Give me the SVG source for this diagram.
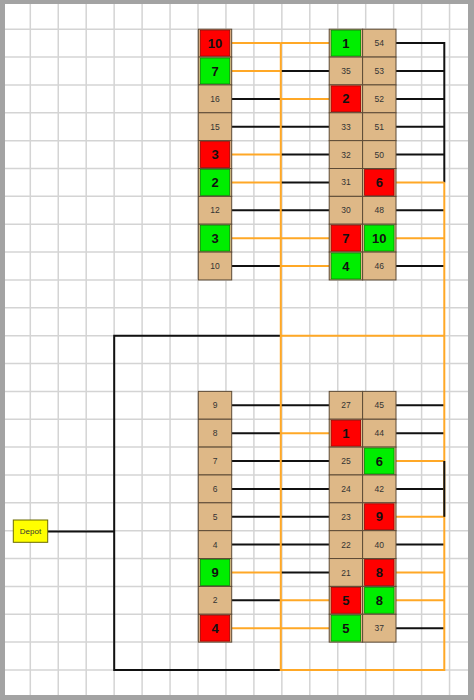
<svg xmlns="http://www.w3.org/2000/svg" width="474" height="700" viewBox="0 0 474 700">
<style>
.grid line{stroke:#d4d4d4;stroke-width:1.5}
.cell{fill:#deb887;stroke:#5c4a36;stroke-width:1}
.red{fill:#ff0000;stroke:#a00000;stroke-width:0.8}
.grn{fill:#00ee00;stroke:#009000;stroke-width:0.8}
.t{font-family:"Liberation Sans",Arial,sans-serif;font-size:8.5px;fill:#333;text-anchor:middle;dominant-baseline:central}
.b{font-family:"Liberation Sans",Arial,sans-serif;font-size:13px;font-weight:bold;fill:#111;text-anchor:middle;dominant-baseline:central}
.k{stroke:#111;stroke-width:2;fill:none}
.o{stroke:#ffa826;stroke-width:2;fill:none}
</style>
<rect x="0" y="0" width="474" height="700" fill="#a3a3a3"/>
<rect x="5" y="4" width="463" height="691" fill="#ffffff"/>
<g class="grid">
<line x1="30.3" y1="4" x2="30.3" y2="695"/><line x1="58.25" y1="4" x2="58.25" y2="695"/><line x1="86.2" y1="4" x2="86.2" y2="695"/><line x1="114.15" y1="4" x2="114.15" y2="695"/><line x1="142.1" y1="4" x2="142.1" y2="695"/><line x1="170.05" y1="4" x2="170.05" y2="695"/><line x1="198" y1="4" x2="198" y2="695"/><line x1="225.95" y1="4" x2="225.95" y2="695"/><line x1="253.9" y1="4" x2="253.9" y2="695"/><line x1="281.85" y1="4" x2="281.85" y2="695"/><line x1="309.8" y1="4" x2="309.8" y2="695"/><line x1="337.75" y1="4" x2="337.75" y2="695"/><line x1="365.7" y1="4" x2="365.7" y2="695"/><line x1="393.65" y1="4" x2="393.65" y2="695"/><line x1="421.6" y1="4" x2="421.6" y2="695"/><line x1="449.55" y1="4" x2="449.55" y2="695"/>
<line x1="5" y1="29.2" x2="468" y2="29.2"/><line x1="5" y1="57.06" x2="468" y2="57.06"/><line x1="5" y1="84.92" x2="468" y2="84.92"/><line x1="5" y1="112.78" x2="468" y2="112.78"/><line x1="5" y1="140.64" x2="468" y2="140.64"/><line x1="5" y1="168.5" x2="468" y2="168.5"/><line x1="5" y1="196.36" x2="468" y2="196.36"/><line x1="5" y1="224.22" x2="468" y2="224.22"/><line x1="5" y1="252.08" x2="468" y2="252.08"/><line x1="5" y1="279.94" x2="468" y2="279.94"/><line x1="5" y1="307.8" x2="468" y2="307.8"/><line x1="5" y1="335.66" x2="468" y2="335.66"/><line x1="5" y1="363.52" x2="468" y2="363.52"/><line x1="5" y1="391.38" x2="468" y2="391.38"/><line x1="5" y1="419.24" x2="468" y2="419.24"/><line x1="5" y1="447.1" x2="468" y2="447.1"/><line x1="5" y1="474.96" x2="468" y2="474.96"/><line x1="5" y1="502.82" x2="468" y2="502.82"/><line x1="5" y1="530.68" x2="468" y2="530.68"/><line x1="5" y1="558.54" x2="468" y2="558.54"/><line x1="5" y1="586.4" x2="468" y2="586.4"/><line x1="5" y1="614.26" x2="468" y2="614.26"/><line x1="5" y1="642.12" x2="468" y2="642.12"/><line x1="5" y1="669.98" x2="468" y2="669.98"/>
</g>
<g id="connectors">
<!-- trunk -->
<path class="k" d="M47.7 531.5 H114.2"/>
<path class="k" d="M280.8 335.7 H114.2 V670 H280.8"/>
<path class="k" d="M396 43.1 H444.3 V182.4"/>
<!-- top block left -->
<path class="o" d="M231.7 43.1 H280.8"/><path class="o" d="M231.7 71 H280.8"/><path class="k" d="M231.7 98.9 H280.8"/><path class="k" d="M231.7 126.7 H280.8"/><path class="o" d="M231.7 154.6 H280.8"/><path class="o" d="M231.7 182.4 H280.8"/><path class="k" d="M231.7 210.3 H280.8"/><path class="o" d="M231.7 238.2 H280.8"/><path class="k" d="M231.7 266 H280.8"/>
<!-- top block middle -->
<path class="o" d="M280.8 43.1 H329.2"/><path class="k" d="M280.8 71 H329.2"/><path class="o" d="M280.8 98.9 H329.2"/><path class="k" d="M280.8 126.7 H329.2"/><path class="k" d="M280.8 154.6 H329.2"/><path class="k" d="M280.8 182.4 H329.2"/><path class="k" d="M280.8 210.3 H329.2"/><path class="o" d="M280.8 238.2 H329.2"/><path class="o" d="M280.8 266 H329.2"/>
<!-- top block right -->
<path class="k" d="M396 71 H444.3"/><path class="k" d="M396 98.9 H444.3"/><path class="k" d="M396 126.7 H444.3"/><path class="k" d="M396 154.6 H444.3"/><path class="o" d="M396 182.4 H444.3"/><path class="k" d="M396 210.3 H444.3"/><path class="o" d="M396 238.2 H444.3"/><path class="k" d="M396 266 H444.3"/>
<!-- bottom block left -->
<path class="k" d="M231.7 405.3 H280.8"/><path class="k" d="M231.7 433.2 H280.8"/><path class="k" d="M231.7 461 H280.8"/><path class="k" d="M231.7 488.9 H280.8"/><path class="k" d="M231.7 516.8 H280.8"/><path class="k" d="M231.7 544.6 H280.8"/><path class="o" d="M231.7 572.5 H280.8"/><path class="k" d="M231.7 600.3 H280.8"/><path class="o" d="M231.7 628.2 H280.8"/>
<!-- bottom block middle -->
<path class="k" d="M280.8 405.3 H329.2"/><path class="o" d="M280.8 433.2 H329.2"/><path class="k" d="M280.8 461 H329.2"/><path class="k" d="M280.8 488.9 H329.2"/><path class="k" d="M280.8 516.8 H329.2"/><path class="k" d="M280.8 544.6 H329.2"/><path class="k" d="M280.8 572.5 H329.2"/><path class="o" d="M280.8 600.3 H329.2"/><path class="o" d="M280.8 628.2 H329.2"/>
<!-- bottom block right -->
<path class="k" d="M396 405.3 H444.3"/><path class="k" d="M396 433.2 H444.3"/><path class="o" d="M396 461 H444.3"/><path class="k" d="M396 488.9 H444.3"/><path class="o" d="M396 516.8 H444.3"/><path class="k" d="M396 544.6 H444.3"/><path class="o" d="M396 572.5 H444.3"/><path class="o" d="M396 600.3 H444.3"/><path class="k" d="M396 628.2 H444.3"/>
<!-- orange trunks -->
<path class="o" d="M280.8 43.1 V670 H444.3 V182.4"/>
<path class="o" d="M280.8 335.7 H444.3"/>
<path class="k" d="M444.3 461 V516.8"/>
</g>
<g id="depot"><rect x="13.3" y="520" width="34.4" height="22.3" fill="#ffff00" stroke="#6b6b00" stroke-width="1"/><text class="t" x="30.5" y="531.2" style="font-size:8px">Depot</text></g>
<!-- top block left column -->
<g id="tl0"><rect class="cell" x="198.3" y="29.2" width="33.4" height="27.86"/><rect class="red" x="200.3" y="30.2" width="29.4" height="25.86"/><text class="b" x="215" y="43.1">10</text></g>
<g id="tl1"><rect class="cell" x="198.3" y="57.06" width="33.4" height="27.86"/><rect class="grn" x="200.3" y="58.06" width="29.4" height="25.86"/><text class="b" x="215" y="71">7</text></g>
<g id="tl2"><rect class="cell" x="198.3" y="84.92" width="33.4" height="27.86"/><text class="t" x="215" y="98.9">16</text></g>
<g id="tl3"><rect class="cell" x="198.3" y="112.78" width="33.4" height="27.86"/><text class="t" x="215" y="126.7">15</text></g>
<g id="tl4"><rect class="cell" x="198.3" y="140.64" width="33.4" height="27.86"/><rect class="red" x="200.3" y="141.64" width="29.4" height="25.86"/><text class="b" x="215" y="154.6">3</text></g>
<g id="tl5"><rect class="cell" x="198.3" y="168.5" width="33.4" height="27.86"/><rect class="grn" x="200.3" y="169.5" width="29.4" height="25.86"/><text class="b" x="215" y="182.4">2</text></g>
<g id="tl6"><rect class="cell" x="198.3" y="196.36" width="33.4" height="27.86"/><text class="t" x="215" y="210.3">12</text></g>
<g id="tl7"><rect class="cell" x="198.3" y="224.22" width="33.4" height="27.86"/><rect class="grn" x="200.3" y="225.22" width="29.4" height="25.86"/><text class="b" x="215" y="238.2">3</text></g>
<g id="tl8"><rect class="cell" x="198.3" y="252.08" width="33.4" height="27.86"/><text class="t" x="215" y="266">10</text></g>
<!-- top block middle column -->
<g id="tm0"><rect class="cell" x="329.2" y="29.2" width="33.4" height="27.86"/><rect class="grn" x="331.2" y="30.2" width="29.4" height="25.86"/><text class="b" x="345.9" y="43.1">1</text></g>
<g id="tm1"><rect class="cell" x="329.2" y="57.06" width="33.4" height="27.86"/><text class="t" x="345.9" y="71">35</text></g>
<g id="tm2"><rect class="cell" x="329.2" y="84.92" width="33.4" height="27.86"/><rect class="red" x="331.2" y="85.92" width="29.4" height="25.86"/><text class="b" x="345.9" y="98.9">2</text></g>
<g id="tm3"><rect class="cell" x="329.2" y="112.78" width="33.4" height="27.86"/><text class="t" x="345.9" y="126.7">33</text></g>
<g id="tm4"><rect class="cell" x="329.2" y="140.64" width="33.4" height="27.86"/><text class="t" x="345.9" y="154.6">32</text></g>
<g id="tm5"><rect class="cell" x="329.2" y="168.5" width="33.4" height="27.86"/><text class="t" x="345.9" y="182.4">31</text></g>
<g id="tm6"><rect class="cell" x="329.2" y="196.36" width="33.4" height="27.86"/><text class="t" x="345.9" y="210.3">30</text></g>
<g id="tm7"><rect class="cell" x="329.2" y="224.22" width="33.4" height="27.86"/><rect class="red" x="331.2" y="225.22" width="29.4" height="25.86"/><text class="b" x="345.9" y="238.2">7</text></g>
<g id="tm8"><rect class="cell" x="329.2" y="252.08" width="33.4" height="27.86"/><rect class="grn" x="331.2" y="253.08" width="29.4" height="25.86"/><text class="b" x="345.9" y="266">4</text></g>
<!-- top block right column -->
<g id="tr0"><rect class="cell" x="362.6" y="29.2" width="33.4" height="27.86"/><text class="t" x="379.3" y="43.1">54</text></g>
<g id="tr1"><rect class="cell" x="362.6" y="57.06" width="33.4" height="27.86"/><text class="t" x="379.3" y="71">53</text></g>
<g id="tr2"><rect class="cell" x="362.6" y="84.92" width="33.4" height="27.86"/><text class="t" x="379.3" y="98.9">52</text></g>
<g id="tr3"><rect class="cell" x="362.6" y="112.78" width="33.4" height="27.86"/><text class="t" x="379.3" y="126.7">51</text></g>
<g id="tr4"><rect class="cell" x="362.6" y="140.64" width="33.4" height="27.86"/><text class="t" x="379.3" y="154.6">50</text></g>
<g id="tr5"><rect class="cell" x="362.6" y="168.5" width="33.4" height="27.86"/><rect class="red" x="364.6" y="169.5" width="29.4" height="25.86"/><text class="b" x="379.3" y="182.4">6</text></g>
<g id="tr6"><rect class="cell" x="362.6" y="196.36" width="33.4" height="27.86"/><text class="t" x="379.3" y="210.3">48</text></g>
<g id="tr7"><rect class="cell" x="362.6" y="224.22" width="33.4" height="27.86"/><rect class="grn" x="364.6" y="225.22" width="29.4" height="25.86"/><text class="b" x="379.3" y="238.2">10</text></g>
<g id="tr8"><rect class="cell" x="362.6" y="252.08" width="33.4" height="27.86"/><text class="t" x="379.3" y="266">46</text></g>
<!-- bottom block left column -->
<g id="bl0"><rect class="cell" x="198.3" y="391.38" width="33.4" height="27.86"/><text class="t" x="215" y="405.3">9</text></g>
<g id="bl1"><rect class="cell" x="198.3" y="419.24" width="33.4" height="27.86"/><text class="t" x="215" y="433.2">8</text></g>
<g id="bl2"><rect class="cell" x="198.3" y="447.1" width="33.4" height="27.86"/><text class="t" x="215" y="461">7</text></g>
<g id="bl3"><rect class="cell" x="198.3" y="474.96" width="33.4" height="27.86"/><text class="t" x="215" y="488.9">6</text></g>
<g id="bl4"><rect class="cell" x="198.3" y="502.82" width="33.4" height="27.86"/><text class="t" x="215" y="516.8">5</text></g>
<g id="bl5"><rect class="cell" x="198.3" y="530.68" width="33.4" height="27.86"/><text class="t" x="215" y="544.6">4</text></g>
<g id="bl6"><rect class="cell" x="198.3" y="558.54" width="33.4" height="27.86"/><rect class="grn" x="200.3" y="559.54" width="29.4" height="25.86"/><text class="b" x="215" y="572.5">9</text></g>
<g id="bl7"><rect class="cell" x="198.3" y="586.4" width="33.4" height="27.86"/><text class="t" x="215" y="600.3">2</text></g>
<g id="bl8"><rect class="cell" x="198.3" y="614.26" width="33.4" height="27.86"/><rect class="red" x="200.3" y="615.26" width="29.4" height="25.86"/><text class="b" x="215" y="628.2">4</text></g>
<!-- bottom block middle column -->
<g id="bm0"><rect class="cell" x="329.2" y="391.38" width="33.4" height="27.86"/><text class="t" x="345.9" y="405.3">27</text></g>
<g id="bm1"><rect class="cell" x="329.2" y="419.24" width="33.4" height="27.86"/><rect class="red" x="331.2" y="420.24" width="29.4" height="25.86"/><text class="b" x="345.9" y="433.2">1</text></g>
<g id="bm2"><rect class="cell" x="329.2" y="447.1" width="33.4" height="27.86"/><text class="t" x="345.9" y="461">25</text></g>
<g id="bm3"><rect class="cell" x="329.2" y="474.96" width="33.4" height="27.86"/><text class="t" x="345.9" y="488.9">24</text></g>
<g id="bm4"><rect class="cell" x="329.2" y="502.82" width="33.4" height="27.86"/><text class="t" x="345.9" y="516.8">23</text></g>
<g id="bm5"><rect class="cell" x="329.2" y="530.68" width="33.4" height="27.86"/><text class="t" x="345.9" y="544.6">22</text></g>
<g id="bm6"><rect class="cell" x="329.2" y="558.54" width="33.4" height="27.86"/><text class="t" x="345.9" y="572.5">21</text></g>
<g id="bm7"><rect class="cell" x="329.2" y="586.4" width="33.4" height="27.86"/><rect class="red" x="331.2" y="587.4" width="29.4" height="25.86"/><text class="b" x="345.9" y="600.3">5</text></g>
<g id="bm8"><rect class="cell" x="329.2" y="614.26" width="33.4" height="27.86"/><rect class="grn" x="331.2" y="615.26" width="29.4" height="25.86"/><text class="b" x="345.9" y="628.2">5</text></g>
<!-- bottom block right column -->
<g id="br0"><rect class="cell" x="362.6" y="391.38" width="33.4" height="27.86"/><text class="t" x="379.3" y="405.3">45</text></g>
<g id="br1"><rect class="cell" x="362.6" y="419.24" width="33.4" height="27.86"/><text class="t" x="379.3" y="433.2">44</text></g>
<g id="br2"><rect class="cell" x="362.6" y="447.1" width="33.4" height="27.86"/><rect class="grn" x="364.6" y="448.1" width="29.4" height="25.86"/><text class="b" x="379.3" y="461">6</text></g>
<g id="br3"><rect class="cell" x="362.6" y="474.96" width="33.4" height="27.86"/><text class="t" x="379.3" y="488.9">42</text></g>
<g id="br4"><rect class="cell" x="362.6" y="502.82" width="33.4" height="27.86"/><rect class="red" x="364.6" y="503.82" width="29.4" height="25.86"/><text class="b" x="379.3" y="516.8">9</text></g>
<g id="br5"><rect class="cell" x="362.6" y="530.68" width="33.4" height="27.86"/><text class="t" x="379.3" y="544.6">40</text></g>
<g id="br6"><rect class="cell" x="362.6" y="558.54" width="33.4" height="27.86"/><rect class="red" x="364.6" y="559.54" width="29.4" height="25.86"/><text class="b" x="379.3" y="572.5">8</text></g>
<g id="br7"><rect class="cell" x="362.6" y="586.4" width="33.4" height="27.86"/><rect class="grn" x="364.6" y="587.4" width="29.4" height="25.86"/><text class="b" x="379.3" y="600.3">8</text></g>
<g id="br8"><rect class="cell" x="362.6" y="614.26" width="33.4" height="27.86"/><text class="t" x="379.3" y="628.2">37</text></g>
</svg>
